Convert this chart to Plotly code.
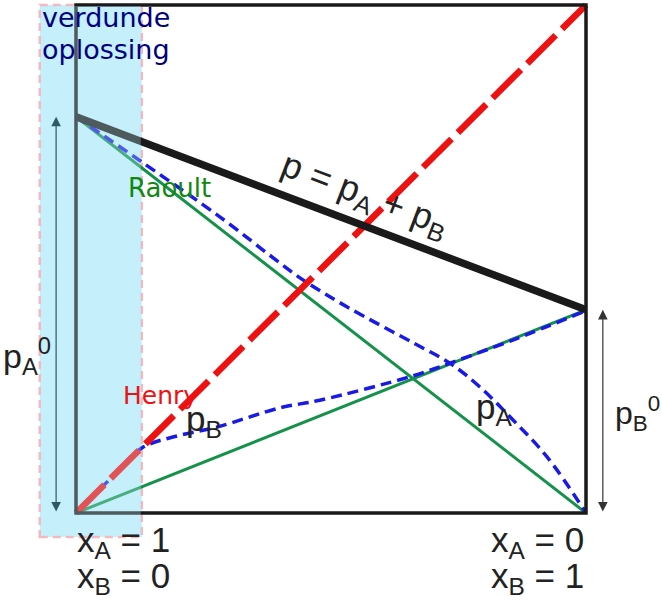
import plotly.graph_objects as go

# mole fraction of B (left: pure A, right: pure B)
x_ends = [0.0, 1.0]

# vapour pressures of the pure liquids and Henry constant (relative units)
pA0 = 0.78
pB0 = 0.40
kB = 1.0

raoult_A = [pA0, 0.0]
raoult_B = [0.0, pB0]
p_total = [pA0, pB0]
henry_B = [0.0, kB]

real_x_A = [0.0, 0.129, 0.282, 0.40, 0.445, 0.531, 0.661, 0.733, 0.792, 0.857, 0.924, 1.0]
real_p_A = [0.78, 0.691, 0.583, 0.492, 0.459, 0.406, 0.335, 0.295, 0.248, 0.183, 0.110, 0.0]

real_x_B = [0.0, 0.065, 0.129, 0.200, 0.276, 0.40, 0.478, 0.661, 0.733, 0.85, 1.0]
real_p_B = [0.0, 0.065, 0.128, 0.152, 0.169, 0.207, 0.222, 0.270, 0.295, 0.338, 0.398]

dilute_edge = 0.129

TXT = "#222222"
GREEN = "#15924a"
BAND = "#c4f0fb"

fig = go.Figure()

fig.add_trace(go.Scatter(x=x_ends, y=raoult_A, mode="lines",
                         line=dict(color=GREEN, width=3), hoverinfo="skip"))
fig.add_trace(go.Scatter(x=x_ends, y=raoult_B, mode="lines",
                         line=dict(color=GREEN, width=3), hoverinfo="skip"))
fig.add_trace(go.Scatter(x=real_x_A, y=real_p_A, mode="lines",
                         line=dict(color="#1a1ae6", width=3.5, dash="11px,6px", shape="spline"),
                         hoverinfo="skip"))
fig.add_trace(go.Scatter(x=real_x_B, y=real_p_B, mode="lines",
                         line=dict(color="#1a1ae6", width=3.5, dash="11px,6px", shape="spline"),
                         hoverinfo="skip"))
fig.add_trace(go.Scatter(x=x_ends, y=henry_B, mode="lines",
                         line=dict(color="#ee1111", width=6.5, dash="40px,9px"), hoverinfo="skip"))
fig.add_trace(go.Scatter(x=x_ends, y=p_total, mode="lines",
                         line=dict(color="#1a1a1a", width=7.5), hoverinfo="skip"))

# dilute solution band (solid underneath, thin tint on top so lines look tinted)
fig.add_shape(type="rect", xref="x", yref="y", x0=-0.071, x1=dilute_edge, y0=-0.047, y1=1.0,
              fillcolor=BAND, line=dict(color="#f4b8c0", width=2.5, dash="8px,5px"),
              layer="below")
# frame
fig.add_shape(type="rect", xref="x", yref="y", x0=0, x1=1, y0=0, y1=1,
              line=dict(color="#1a1a1a", width=3.5), layer="above")
fig.add_shape(type="rect", xref="x", yref="y", x0=-0.069, x1=dilute_edge - 0.002, y0=-0.045, y1=0.998,
              fillcolor="rgba(196,240,251,0.3)", line=dict(width=0), layer="above")

# double arrows for pA0 and pB0
for xa, ytop, col in [(-0.039, pA0, "#2b5a64"), (1.033, pB0, "#333333")]:
    fig.add_annotation(x=xa, y=ytop, ax=xa, ay=0, xref="x", yref="y", axref="x", ayref="y",
                       text="", showarrow=True, arrowhead=2, arrowside="end+start",
                       arrowsize=1.6, arrowwidth=1.2, arrowcolor=col)

def label(x, y, text, size, color=TXT, family="Liberation Sans", xanchor="center", angle=0):
    fig.add_annotation(x=x, y=y, xref="x", yref="y", text=text, showarrow=False,
                       font=dict(size=size, color=color, family=family),
                       xanchor=xanchor, yanchor="middle", textangle=angle)

label(-0.071, 0.975, "verdunde", 27, color="#000080", family="DejaVu Sans", xanchor="left")
label(-0.071, 0.913, "oplossing", 27, color="#000080", family="DejaVu Sans", xanchor="left")
label(0.098, 0.64, "Raoult", 26, color="#118811", family="DejaVu Sans", xanchor="left")
label(0.088, 0.232, "Henry", 25, color="#ee1111", family="DejaVu Sans", xanchor="left")

label(0.567, 0.625, "p = p<sub>A</sub> + p<sub>B</sub>", 36, angle=20.8)
label(0.82, 0.205, "p<sub>A</sub>", 35)
label(0.25, 0.182, "p<sub>B</sub>", 35)
label(-0.147, 0.31, "p<sub>A</sub><sup>0</sup>", 34, xanchor="left")
label(1.053, 0.195, "p<sub>B</sub><sup>0</sup>", 32, xanchor="left")

label(-0.002, -0.058, "x<sub>A</sub> = 1", 35, xanchor="left")
label(-0.002, -0.128, "x<sub>B</sub> = 0", 35, xanchor="left")
label(0.81, -0.058, "x<sub>A</sub> = 0", 35, xanchor="left")
label(0.81, -0.128, "x<sub>B</sub> = 1", 35, xanchor="left")

fig.update_xaxes(range=[-76 / 510, 586 / 510], visible=False, showgrid=False, zeroline=False)
fig.update_yaxes(range=[-87 / 508, 513 / 508], visible=False, showgrid=False, zeroline=False)
fig.update_layout(width=662, height=600, margin=dict(l=0, r=0, t=0, b=0),
                  plot_bgcolor="white", paper_bgcolor="white", showlegend=False)

# page body has a default 8px margin; drop it so the figure sits at the corner
fig.write_html("out.html", config={"displayModeBar": False},
               post_script="document.body.style.margin='0';")
